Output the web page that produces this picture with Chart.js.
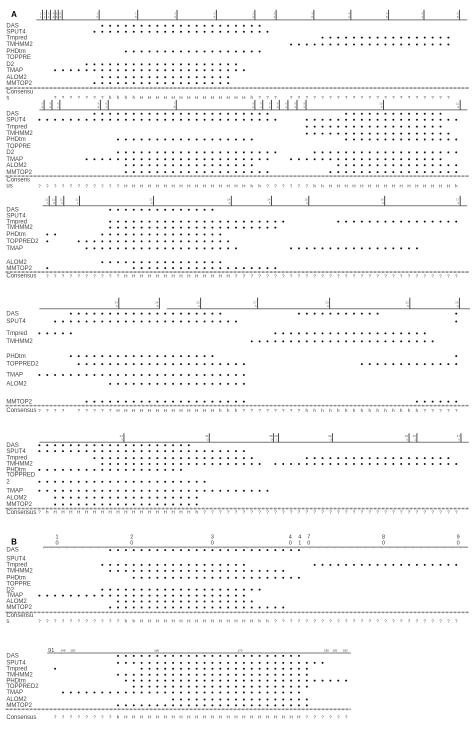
<!DOCTYPE html>
<html><head><meta charset="utf-8">
<script src="https://cdn.jsdelivr.net/npm/chart.js@4"></script>
<style>html,body{margin:0;padding:0;background:#fff}canvas{display:block}</style>
</head><body><canvas id="c" width="474" height="744"></canvas>
<script>
// ---------------- DATA (columns are residue positions in each alignment block) ----------------
const a1Labels=["DAS","SPUT4","Tmpred","TMHMM2","PHDtm","TOPPRE","D2","TMAP","ALOM2","MMTOP2"];
const a1Runs=["8-28","7-29","36-52","32-52","11-28","","6-25","2-26","8-24","7-24"];
const a1Consensus="?2-8 h9-12 H13-26 h27 ?28-30 ?32-52";
const a1TickCols=[0.4,0.9,1.4,2,2.4,2.9,7.6,12.5,17.5,22.5,27.4,30.1,34.9,39.6,44.4,48.9,53.4];
const a1TickLabels=["1","2","3","4","5","6","10","15","20","25","30","33","38","43","48","53","58"];

const a2Labels=["DAS","SPUT4","Tmpred","TMHMM2","PHDtm","TOPPRE","D2","TMAP","ALOM2","MMTOP2"];
const a2Runs=["7-29,39-51","0-30,34-53","34-51","34-52","10-27,39-53","","10-30,35-53","6-29,32-51","11-27,38-53","11-29,37-53"];
const a2Consensus="?0-10 H11-26 h27-28 ?29-34 h35-36 H37-52 h53";
const a2TickCols=[0.6,1.6,2.6,7.75,8.75,17.4,27.4,28.4,29.5,30.5,31.6,32.75,33.9,43.75,53.5];
const a2TickLabels=["59","60","61","66","67","78","90","91","92","93","94","95","96","106","116"];

const a3Labels=["DAS","SPUT4","Tmpred","TMHMM2","PHDtm","TOPPRED2","TMAP","ALOM2","MMTOP2"];
const a3Runs=["9-22","","9-31,38-53","9-30","1-2,8-23","1,5-24","6-25,32-48","8-23","1,12-30"];
const a3Consensus="?1-10 H11-24 ?25-53";
const a3TickCols=[1.25,2.1,3.1,5.1,14.5,24.4,29.5,34.25,43.9,53.5];
const a3TickLabels=["117","118","119","121","130","140","145","150","160","170"];

const a4Labels=["DAS","SPUT4","Tmpred","TMHMM2","PHDtm","TOPPRED2","TMAP","ALOM2","MMTOP2"];
const a4Runs=["4-23,33-43,53","2-25,53","0-4,30-49","27-50","4-22,53","5-26,41-53","0-26","9-26","6-26,48-53"];
const a4Consensus="?0-3 ?5-9 H10-22 h23-25 ?26-33 h34-48 ?49-53";
const a4TickCols=[10.1,15.25,20.5,27.75,36.9,47.1,53.4];
const a4TickLabels=["240","245","250","275","300","325","330"];

const a5Labels=["DAS","SPUT4","Tmpred","TMHMM2","PHDtm","TOPPRED","2","TMAP","ALOM2","MMTOP2"];
const a5Runs=["0-19","0-26","7-27,34-52","8-28,30-53","0-18","","0-21","0-29","2-20","2-20"];
const a5Consensus="?0 h1 H2-19 h20 ?21-53";
const a5TickCols=[10.75,21.6,29.75,30.4,37.25,47,48,53.6];
const a5TickLabels=["345","360","380","381","390","400","401","410"];

const b1Labels=["DAS","SPUT4","Tmpred","TMHMM2","PHDtm","TOPPRE","D2","TMAP","ALOM2","MMTOP2"];
const b1Runs=["9-33","","8-26,35-53","9-31","12-33","","8-28","0-26","10-27","9-31"];
const b1Consensus="?0-10 h11-12 H13-27 h28-29 ?30-53";
const b1TickCols=[2.25,11.75,22,31.9,33.1,34.25,43.75,53.25];
const b1TickLabels=["10","20","30","40","41","70","80","90"];

const b2Labels=["DAS","SPUT4","Tmpred","TMHMM2","PHDtm","TOPPRED2","TMAP","ALOM2","MMTOP2"];
const b2Runs=["10-33","10-36","2,13-34","10-34","11-39","12-34","3-33","17-34","10-34"];
const b2Consensus="?2-9 h10 H11-33 ?34-39";
const b2TickCols=[1.5,3,4.25,14.9,25.5,36.5,37.6,38.9];
const b2TickLabels=["91","148","150","160","170","180","181","182"];

// ---------------- LAYOUT (positions only) ----------------
const blocks=[
 {labels:a1Labels,runs:a1Runs,cons:a1Consensus,ticks:a1TickCols,tl:a1TickLabels,ruler:16,rulerSeg:[[-0.4,54.4]],
  rows:[22,28,34,41,48,54,61,67,74,80],sep:85,consY:95,consLab:[["Consensu",89],["s",95]],tickH:10,style:"a"},
 {labels:a2Labels,runs:a2Runs,cons:a2Consensus,ticks:a2TickCols,tl:a2TickLabels,ruler:107,rulerSeg:[[0,54.4]],
  rows:[111,117,124,131,137,144,150,157,163,170],sep:174,consY:184,consLab:[["Consens",178],["us",184]],tickH:10,style:"a"},
 {labels:a3Labels,runs:a3Runs,cons:a3Consensus,ticks:a3TickCols,tl:a3TickLabels,ruler:204,rulerSeg:[[0.4,54.4]],
  rows:[208,214,220,226,233,240,247,261,267],sep:271,consY:275,consLab:[["Consensus",275]],tickH:10,style:"a"},
 {labels:a4Labels,runs:a4Runs,cons:a4Consensus,ticks:a4TickCols,tl:a4TickLabels,ruler:308,rulerSeg:[[0,15.3],[16.2,54.8]],
  rows:[313,321,333,341,356,364,375,384,402],sep:406,consY:411,consLab:[["Consensus",411]],tickH:11,style:"a"},
 {labels:a5Labels,runs:a5Runs,cons:a5Consensus,ticks:a5TickCols,tl:a5TickLabels,ruler:443,rulerSeg:[[0,54.6]],
  rows:[446,452,459,465,471,476,483,492,499,506],sep:510,consY:514,consLab:[["Consensus",514]],tickH:9,style:"a"},
 {labels:b1Labels,runs:b1Runs,cons:b1Consensus,ticks:b1TickCols,tl:b1TickLabels,ruler:549,rulerSeg:[[0.5,54.5]],
  rows:[552,561,567,573,580,586,592,598,604,610],sep:615,consY:624,consLab:[["Consensu",618],["s",624]],tickH:0,style:"b1"},
 {labels:b2Labels,runs:b2Runs,cons:b2Consensus,ticks:b2TickCols,tl:b2TickLabels,ruler:656,rulerSeg:[[1,39.6]],sepEnd:39.6,
  rows:[659,666,672,678,684,690,696,703,709],sep:713,consY:721,consLab:[["Consensus",721]],tickH:0,style:"b2"}
];

function parseRuns(s){const out=[];if(!s)return out;s.split(",").forEach(t=>{const p=t.split("-").map(Number);if(p.length===1)out.push(p[0]);else for(let c=p[0];c<=p[1];c++)out.push(c);});return out;}
function parseCons(s){const out=[];s.split(" ").forEach(t=>{const ch=t[0];const p=t.slice(1).split("-").map(Number);const b=p.length>1?p[1]:p[0];for(let c=p[0];c<=b;c++)out.push({x:c,ch});});return out;}

const dots=[];
const lineSets=[];
blocks.forEach(b=>{
  b.runs.forEach((r,i)=>parseRuns(r).forEach(c=>dots.push({x:c,y:b.rows[i]})));
  b.rulerSeg.forEach(sg=>lineSets.push({type:'line',data:[{x:sg[0],y:b.ruler},{x:sg[1],y:b.ruler}],borderColor:'#777',borderWidth:1,pointRadius:0}));
  lineSets.push({type:'line',data:[{x:-4.3,y:b.sep},{x:b.sepEnd!==undefined?b.sepEnd:54.7,y:b.sep}],borderColor:'#8a8a8a',borderWidth:1.6,borderDash:[3,1],pointRadius:0});
});

const textPlugin={id:'txt',afterDatasetsDraw(chart){
  const ctx=chart.ctx,xs=chart.scales.x,ys=chart.scales.y;
  ctx.save();
  ctx.fillStyle='#000';ctx.font='bold 8px "Liberation Sans"';ctx.textBaseline='middle';
  ctx.fillText('A',xs.getPixelForValue(-3.6),ys.getPixelForValue(11));
  ctx.fillText('B',xs.getPixelForValue(-3.6),ys.getPixelForValue(544));
  blocks.forEach(b=>{
    ctx.fillStyle='#444';ctx.font='6px "Liberation Sans"';ctx.textAlign='left';ctx.textBaseline='middle';
    const lx=xs.getPixelForValue(-4.2);
    b.labels.forEach((l,i)=>ctx.fillText(l,lx,ys.getPixelForValue(b.rows[i])));
    b.consLab.forEach(([t,y])=>ctx.fillText(t,lx,ys.getPixelForValue(y)));
    ctx.font='4.5px "Liberation Sans"';ctx.textAlign='center';ctx.fillStyle='#333';
    parseCons(b.cons).forEach(o=>ctx.fillText(o.ch,xs.getPixelForValue(o.x),ys.getPixelForValue(b.consY)));
    const ry=ys.getPixelForValue(b.ruler);
    b.ticks.forEach((c,i)=>{
      const px=xs.getPixelForValue(c);
      if(b.style==='a'){
        ctx.strokeStyle='#333';ctx.lineWidth=0.9;ctx.beginPath();ctx.moveTo(px,ry);ctx.lineTo(px,ry-b.tickH);ctx.stroke();
        ctx.fillStyle='#666';ctx.font='3px "Liberation Sans"';ctx.textAlign='right';
        const t=b.tl[i];ctx.fillText(t.slice(0,-1)||t,px-1,ry-6);ctx.fillText(t.slice(-1),px-1,ry-2.5);
      }else if(b.style==='b1'){
        ctx.fillStyle='#333';ctx.font='5.5px "Liberation Sans"';ctx.textAlign='center';
        const t=b.tl[i];ctx.fillText(t[0],px,ry-10);ctx.fillText(t[1],px,ry-4);
      }else{
        ctx.fillStyle='#333';ctx.font=(i===0?'5.5px':'3px')+' "Liberation Sans"';ctx.textAlign='center';
        ctx.fillText(b.tl[i],px,ry-2.5);
      }
    });
    if(b.style==='b1'){ctx.strokeStyle='#999';ctx.lineWidth=0.5;for(let c=1;c<=54;c++){const px=xs.getPixelForValue(c-0.5);ctx.beginPath();ctx.moveTo(px,ry);ctx.lineTo(px,ry+1.5);ctx.stroke();}}
  });
  ctx.restore();
}};

new Chart(document.getElementById('c'),{
  type:'scatter',
  data:{datasets:[{data:dots,pointRadius:1,pointBackgroundColor:'#111',pointBorderWidth:0,showLine:false},...lineSets]},
  options:{responsive:false,animation:false,devicePixelRatio:2,layout:{padding:0},
    plugins:{legend:{display:false},tooltip:{enabled:false}},
    scales:{x:{type:'linear',display:false,min:-4.5,max:54.75},y:{type:'linear',display:false,min:0,max:744,reverse:true}}},
  plugins:[textPlugin]
});
</script></body></html>
